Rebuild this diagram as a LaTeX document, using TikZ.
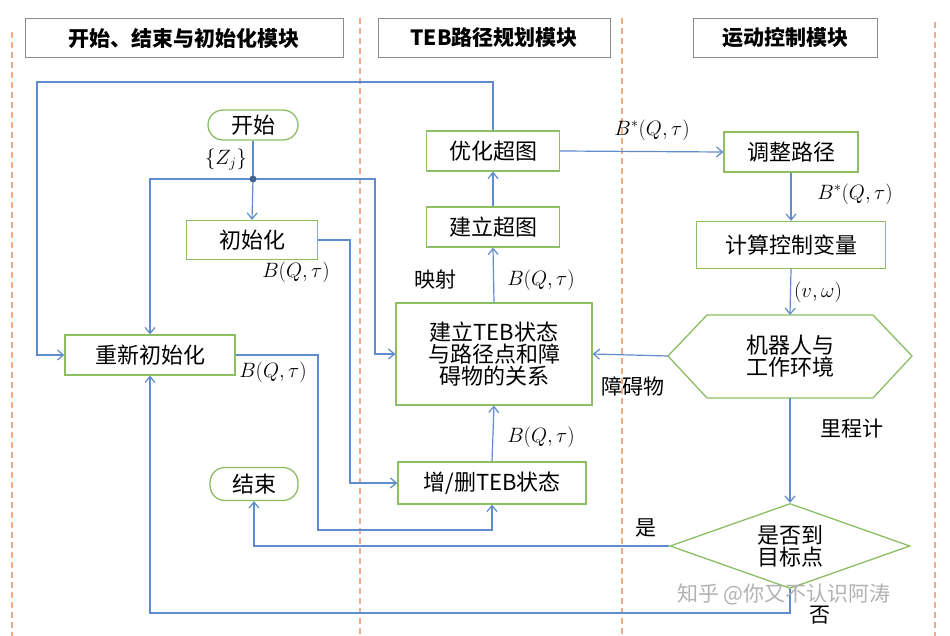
\documentclass[tikz,border=0pt]{standalone}
\usepackage{fontspec}
\setmainfont{Noto Sans CJK SC}
\usetikzlibrary{shapes.geometric,arrows.meta}
\definecolor{lb}{RGB}{95,140,205}
\definecolor{gb}{RGB}{140,190,100}
\definecolor{od}{RGB}{240,170,140}
\tikzset{
 box/.style={draw=gb,line width=1.3pt,fill=white,inner sep=0pt,font=\fontsize{22}{25}\selectfont,align=center},
 term/.style={box,rounded corners=15pt},
 hdr/.style={draw=black!45,line width=0.8pt,fill=white,inner sep=0pt,font=\fontsize{21}{24}\selectfont\bfseries},
 ln/.style={draw=lb,line width=1.2pt},
 ar/.style={ln,-{Straight Barb[length=6pt,width=10pt]}},
 lab/.style={font=\fontsize{21}{24}\selectfont},
 mlab/.style={font=\fontsize{22}{24}\selectfont},
 sep/.style={draw=od,line width=1.2pt,dash pattern=on 6pt off 4pt}
}
\begin{document}
\begin{tikzpicture}[x=1pt,y=-1pt]
\useasboundingbox[fill=white] (0,0) rectangle (950,636);
% separators
\draw[sep] (12,32) -- (12,636);
\draw[sep] (360,18) -- (360,636);
\draw[sep] (622,18) -- (622,636);
\draw[sep] (935,22) -- (935,636);
% headers
\node[hdr,minimum width=318,minimum height=39] (h1) at (184,38) {开始、结束与初始化模块};
\node[hdr,minimum width=232,minimum height=39] (h2) at (494,38) {TEB路径规划模块};
\node[hdr,minimum width=184,minimum height=39] (h3) at (785,38) {运动控制模块};
% nodes
\node[term,minimum width=90,minimum height=30] (start) at (253,125) {开始};
\coordinate (j) at (253,179);
\node[box,minimum width=131,minimum height=39] (init) at (252,240) {初始化};
\node[box,minimum width=170,minimum height=40] (reinit) at (150,355) {重新初始化};
\node[term,minimum width=88,minimum height=33] (end) at (254,484) {结束};
\node[box,minimum width=133,minimum height=40] (opt) at (493,151) {优化超图};
\node[box,minimum width=133,minimum height=40] (build) at (493,227) {建立超图};
\node[box,minimum width=196,minimum height=102] (rel) at (494,354) {建立TEB状态\\[-3pt]与路径点和障\\[-3pt]碍物的关系};
\node[box,minimum width=188,minimum height=42] (add) at (492,483) {增/删TEB状态};
\node[box,minimum width=134,minimum height=40] (adj) at (791,152) {调整路径};
\node[box,minimum width=189,minimum height=47] (calc) at (791,245) {计算控制变量};
\path[draw=gb,line width=1.3pt,fill=white] (668,356) -- (707,315) -- (873,315) -- (912,356) -- (873,398) -- (707,398) -- cycle;
\node[box,draw=none,fill=none] (env) at (790,356) {机器人与\\[-3pt]工作环境};
\coordinate (envW) at (668,356); \coordinate (envS) at (790,398); \coordinate (envN) at (790,315);
\node[box,diamond,aspect=2.85,minimum width=240,minimum height=85] (goal) at (790,546) {是否到\\[-3pt]目标点};
% connectors
\draw[ln] (start.south) -- (j);
\draw[ar] (j) -- (init.north);
\draw[ar] (j) -| (reinit.north);
\draw[ar] (j) -- (375,179) |- (rel.west);
\fill[lb!70!black] (j) circle (3.5);
\draw[ar] (opt.north) -- (493,82) -- (37,82) |- (reinit.west);
\draw[ar] (init.east) -- (350,240) |- (add.west);
\draw[ar] (reinit.east) -- (318,355) -- (318,530) -| (add.south);
\draw[ar] (add.north) -- (rel.south);
\draw[ar] (rel.north) -- (build.south);
\draw[ar] (build.north) -- (opt.south);
\draw[ar] (opt.east) -- (adj.west);
\draw[ar] (adj.south) -- (calc.north);
\draw[ar] (calc.south) -- (envN);
\draw[ar] (envW) -- (rel.east);
\draw[ar] (envS) -- (goal.north);
\draw[ar] (goal.west) -| (end.south);
\draw[ar] (goal.south) -- (790,613) -| (reinit.south);
% labels
\node[lab] (zj) at (226,160) {$\{Z_j\}$};
\node[mlab] (l1) at (296,272) {$B(Q,\tau)$};
\node[mlab] (l2) at (273,372) {$B(Q,\tau)$};
\node[lab] (l3) at (435,280) {映射};
\node[mlab] (l4) at (541,280) {$B(Q,\tau)$};
\node[mlab] (l5) at (541,437) {$B(Q,\tau)$};
\node[mlab] (l6) at (652,130) {$B^{*}(Q,\tau)$};
\node[mlab] (l7) at (855,194) {$B^{*}(Q,\tau)$};
\node[mlab] (l8) at (818,292) {$(v,\omega)$};
\node[lab] (l9) at (633,386) {障碍物};
\node[lab] (l10) at (852,429) {里程计};
\node[lab] (l11) at (646,528) {是};
\node[lab] (l12) at (820,615) {否};
\node[font=\fontsize{21}{24}\selectfont,text=black!30] (wm) at (784,594) {知乎 @你又不认识阿涛};
\end{tikzpicture}
\end{document}
